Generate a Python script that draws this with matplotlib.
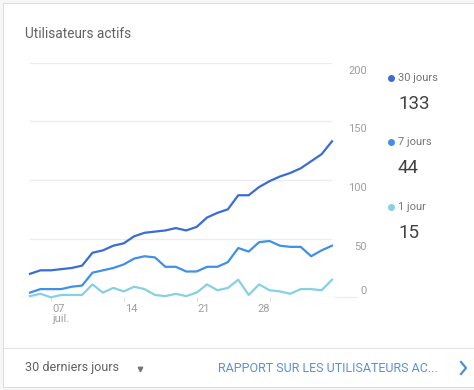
import numpy as np
import matplotlib
matplotlib.use('Agg')
import matplotlib.pyplot as plt
from matplotlib.lines import Line2D
from matplotlib.patches import Rectangle
from matplotlib.transforms import ScaledTranslation

plt.rcParams['font.family'] = ['Roboto', 'DejaVu Sans']

# daily active users, last 30 days (5 juil. -> 3 août)
days = np.arange(30)
users_30d = [20, 23, 23, 24, 25, 27, 38, 40, 44, 46, 52, 55, 56, 57, 59, 57, 60, 68, 72, 75,
             87, 87, 94, 99, 103, 106, 110, 116, 122, 133]
users_7d = [4, 7, 7, 7, 9, 10, 21, 23, 25, 28, 33, 35, 34, 26, 26, 22, 22, 26, 26, 30,
            42, 39, 47, 48, 44, 43, 43, 35, 40, 44]
users_1d = [1, 3, 0, 2, 2, 2, 11, 4, 8, 5, 9, 7, 2, 1, 3, 1, 4, 11, 6, 8,
            15, 2, 11, 6, 5, 3, 7, 7, 6, 15]

series_names = ['30 jours', '7 jours', '1 jour']
series_colors = ['#3b6cd6', '#3f90e6', '#86d0e4']
y_ticks = [0, 50, 100, 150, 200]
x_tick_days = [2, 9, 16, 23]
x_tick_labels = ['07\njuil.', '14', '21', '28']

W, H = 474, 390
fig = plt.figure(figsize=(W / 100, H / 100), dpi=100)
fig.patch.set_facecolor('#f7f7f7')


def px(x, y):
    # pixel position (from top left) -> figure fraction
    return x / W, 1 - y / H


# card
fig.add_artist(Rectangle(px(3, 387), 480 / W, 384 / H, transform=fig.transFigure,
                         facecolor='white', edgecolor='#dedede', lw=0.8, zorder=0))
fig.add_artist(Line2D([3 / W, 1], [1 - 348 / H] * 2, transform=fig.transFigure,
                      color='#e4e4e4', lw=0.8))

fig.text(*px(25, 34), 'Utilisateurs actifs', fontsize=9.8, color='#616161', va='center')

# plot area
l, r = 30, 332
top, bot = 62.7, 297.3
ax = fig.add_axes([l / W, 1 - bot / H, (r - l) / W, (bot - top) / H])
ax.set_facecolor('none')
for y, c in zip([users_30d, users_7d, users_1d], series_colors):
    ax.plot(days, y, color=c, lw=1.6, clip_on=False, solid_joinstyle='round', zorder=3)

ax.set_xlim(0, 29)
ax.set_ylim(0, 200)
for s in ax.spines.values():
    s.set_visible(False)
ax.yaxis.tick_right()
ax.set_yticks(y_ticks)
ax.set_yticklabels([str(v) for v in y_ticks])
ax.tick_params(axis='y', length=0, pad=25, labelsize=8, labelcolor='#9e9e9e')
for lab, v in zip(ax.get_yticklabels(), y_ticks):
    lab.set_ha('right')
    dy = 5 / 72 if v == 0 else -5 / 72
    lab.set_transform(lab.get_transform() + ScaledTranslation(0, dy, fig.dpi_scale_trans))
ax.grid(axis='y', color='#ececec', lw=0.9)
ax.set_axisbelow(True)
ax.plot([1.01, 1.08], [0, 0], transform=ax.get_yaxis_transform(), color='#ececec',
        lw=0.9, clip_on=False)

# x ticks: marks on the days, labels just beside them
ax.set_xticks(x_tick_days, minor=True)
ax.tick_params(axis='x', which='minor', length=3, color='#e0e0e0', width=0.8)
label_pos = [2.65, 9.75, 16.65, 22.45]
ax.set_xticks(label_pos)
ax.set_xticklabels(x_tick_labels, ha='center', linespacing=1.0)
ax.tick_params(axis='x', which='major', length=0, pad=5, labelsize=8, labelcolor='#9e9e9e')
ax.get_xticklabels()[0].set_ha('left')
ax.get_xticklabels()[0].set_transform(ax.get_xticklabels()[0].get_transform()
                                      + ScaledTranslation(-5.5 / 100, 0, fig.dpi_scale_trans))

# legend with latest values
latest = [users_30d[-1], users_7d[-1], users_1d[-1]]
for i, (name, c, v) in enumerate(zip(series_names, series_colors, latest)):
    y0 = 78 + i * 64.3
    fig.add_artist(Line2D([391 / W], [1 - y0 / H], transform=fig.transFigure, marker='o',
                          ms=4, color=c, mec=c))
    fig.text(*px(398, y0), name, fontsize=8, color='#757575', va='center')
    fig.text(*px(398, y0 + 26), str(v), fontsize=13.5, color='#424242', va='center')

# footer
fig.text(*px(25, 368), '30 derniers jours', fontsize=9, color='#616161', va='center')
fig.add_artist(Line2D([140 / W], [1 - 368.5 / H], transform=fig.transFigure, marker='v',
                      ms=3.2, color='#757575', mec='#757575'))
fig.text(*px(218, 368), 'RAPPORT SUR LES UTILISATEURS AC...', fontsize=9,
         color='#5b8fd8', va='center')
fig.add_artist(Line2D([461 / W, 466 / W, 461 / W], [1 - 362 / H, 1 - 368 / H, 1 - 374 / H],
                      transform=fig.transFigure, color='#4a8ee0', lw=1.6))

fig.savefig('out.png', dpi=100, facecolor=fig.get_facecolor())
